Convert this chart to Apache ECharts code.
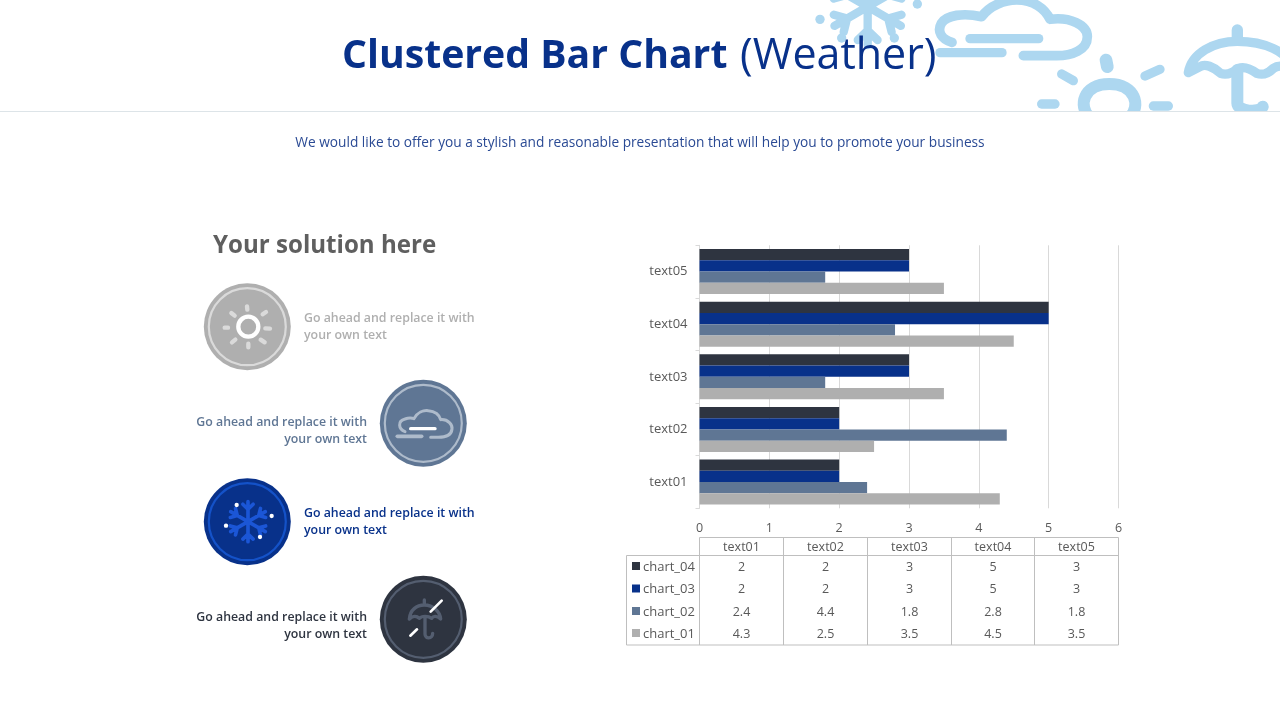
<!DOCTYPE html>
<html>
<head>
<meta charset="utf-8">
<title>Clustered Bar Chart (Weather)</title>
<script src="https://cdn.jsdelivr.net/npm/echarts@6/dist/echarts.min.js"></script>
<style>
html,body{margin:0;padding:0;background:#fff}
#main{width:1280px;height:720px}
</style>
</head>
<body>
<div id="main"></div>
<script type="text/javascript">
var categories = ['text01', 'text02', 'text03', 'text04', 'text05'];
var chart_01 = [4.3, 2.5, 3.5, 4.5, 3.5];
var chart_02 = [2.4, 4.4, 1.8, 2.8, 1.8];
var chart_03 = [2, 2, 3, 5, 3];
var chart_04 = [2, 2, 3, 5, 3];
var seriesNames = ['chart_04', 'chart_03', 'chart_02', 'chart_01'];
var seriesColors = ['#2E3440', '#08318A', '#5F7694', '#AFAFAF'];
var seriesValues = [chart_04, chart_03, chart_02, chart_01];
var captions = ['Go ahead and replace it with', 'your own text'];

var FONT = '"Open Sans", sans-serif';
var SKY = '#ADD7F0', GRID = '#D9D9D9', TABLE = '#BFBFBF', TXT = '#595959';
var g = [];
var shapeCount = 0;

function text(x, y, str, size, color, align, weight) {
	g.push({type: 'text', x: x, y: y, z: 20, style: {
		text: str, fontFamily: FONT, fontSize: size, fill: color,
		align: align || 'left', verticalAlign: 'middle', fontWeight: weight || 'normal'
	}});
}
function rect(x, y, w, h, color, z) {
	g.push({type: 'rect', z: z || 10, shape: {x: x, y: y, width: w, height: h}, style: {fill: color}});
}
function line(x1, y1, x2, y2, color) {
	g.push({type: 'line', z: 10, shape: {x1: x1, y1: y1, x2: x2, y2: y2}, style: {stroke: color, lineWidth: 1}});
}
// icon shapes are written in 3x crop units, then scaled back down
function stroke(ox, oy, d, color, w, z) {
	var name = 'iconPath' + (shapeCount++);
	echarts.graphic.registerShape(name, echarts.graphic.extendPath(d, {}));
	g.push({type: name, x: ox, y: oy, scaleX: 1 / 3, scaleY: 1 / 3, z: z || 5,
		style: {fill: 'none', stroke: color, lineWidth: w, lineCap: 'round', lineJoin: 'round'}});
}
function dot(ox, oy, cx, cy, r, color, z) {
	g.push({type: 'circle', x: ox, y: oy, scaleX: 1 / 3, scaleY: 1 / 3, z: z || 5,
		shape: {cx: cx, cy: cy, r: r}, style: {fill: color}});
}
function badge(cx, cy, fill, ring) {
	g.push({type: 'circle', z: 6, shape: {cx: cx, cy: cy, r: 43.5}, style: {fill: fill}});
	g.push({type: 'circle', z: 7, shape: {cx: cx, cy: cy, r: 38.5}, style: {fill: 'none', stroke: ring, lineWidth: 2.2}});
}
function flake(ox, oy, cx, cy, len, color, w, z) {
	var d = '';
	for (var i = 0; i < 6; i++) {
		var a = Math.PI / 2 + i * Math.PI / 3;
		var ux = Math.cos(a), uy = Math.sin(a);
		d += 'M' + cx + ' ' + cy + 'L' + (cx + ux * len) + ' ' + (cy + uy * len);
		var bx = cx + ux * len * 0.62, by = cy + uy * len * 0.62;
		var a1 = a + 0.8, a2 = a - 0.8, b = len * 0.36;
		d += 'M' + bx + ' ' + by + 'L' + (bx + Math.cos(a1) * b) + ' ' + (by + Math.sin(a1) * b);
		d += 'M' + bx + ' ' + by + 'L' + (bx + Math.cos(a2) * b) + ' ' + (by + Math.sin(a2) * b);
	}
	stroke(ox, oy, d, color, w, z);
}

// header artwork
flake(800, 0, 203, 20, 115, SKY, 25, 1);
dot(800, 0, 60, 58, 14, SKY, 1);
dot(800, 0, 352, 12, 14, SKY, 1);
dot(800, 0, 283, 114, 14, SKY, 1);
dot(800, 0, 125, 114, 14, SKY, 1);
stroke(800, 0, 'M456 127C425 118 410 95 424 70C440 45 490 38 545 50C570 15 615 0 650 0C700 0 735 25 750 58C810 50 862 75 862 110C862 150 815 167 770 167L670 167', SKY, 29, 1);
stroke(800, 0, 'M510 116L716 116', SKY, 28, 1);
stroke(800, 0, 'M420 158L606 158', SKY, 28, 1);
stroke(800, 0, 'M918 180L922 200', SKY, 38, 1);
stroke(800, 0, 'M785 222L820 242', SKY, 28, 1);
stroke(800, 0, 'M1035 228L1080 208', SKY, 28, 1);
stroke(800, 0, 'M725 312L765 312', SKY, 28, 1);
stroke(800, 0, 'M1060 318L1105 318', SKY, 28, 1);
stroke(800, 0, 'M868 350C835 320 848 252 928 252C1008 252 1022 320 990 350', SKY, 36, 1);
stroke(800, 0, 'M1312 90L1312 120', SKY, 34, 1);
stroke(800, 0, 'M1165 218C1175 160 1240 124 1312 124C1390 124 1460 150 1490 215C1460 195 1435 195 1420 205C1400 225 1385 225 1370 220C1350 205 1330 200 1315 205C1290 225 1275 225 1262 220C1240 200 1215 190 1200 200Z', SKY, 28, 1);
stroke(800, 0, 'M1312 210L1312 310C1312 335 1380 340 1388 320', SKY, 36, 1);
rect(0, 111, 1280, 14, '#FFFFFF', 2);
rect(0, 111, 1280, 1, '#DDE4E8', 3);

// heading
text(342, 57, 'Clustered Bar Chart', 39.2, '#08318A', 'left', 'bold');
text(740, 57, '(Weather)', 43, '#08318A', 'left', 'normal');
text(640, 143, 'We would like to offer you a stylish and reasonable presentation that will help you to promote your business', 13.7, '#2A4A94', 'center');
text(213, 246, 'Your solution here', 24.1, '#5F5F5F', 'left', 'bold');

// left column badges
badge(247.3, 326.7, '#AFAFAF', '#DADADA');
badge(423.3, 423.3, '#5F7694', '#AEBBCB');
badge(247.3, 521.7, '#08318A', '#1452C8');
badge(423.3, 619.3, '#2E3440', '#545E70');

text(304, 318, captions[0], 12.35, '#AFAFAF', 'left', 600);
text(304, 335, captions[1], 12.35, '#AFAFAF', 'left', 600);
text(367, 422, captions[0], 12.35, '#5F7694', 'right', 600);
text(367, 439, captions[1], 12.35, '#5F7694', 'right', 600);
text(304, 513, captions[0], 12.35, '#08318A', 'left', 600);
text(304, 530, captions[1], 12.35, '#08318A', 'left', 600);
text(367, 617, captions[0], 12.35, '#2E3440', 'right', 600);
text(367, 634, captions[1], 12.35, '#2E3440', 'right', 600);

// sun
stroke(190, 275, 'M175 125A30 30 0 1 1 174.9 125Z', '#FFFFFF', 13, 8);
stroke(190, 275, 'M171 94L172 104M218 118L228 111M226 160L240 161M212 194L224 202M175 206L175 217M136 194L126 202M104 158L114 158M134 122L124 114', '#DADADA', 13, 8);

// cloud
stroke(190, 275, 'M645 470C625 462 622 438 645 432C655 428 665 428 672 431C682 412 700 405 715 407C735 408 748 420 752 434C775 432 788 450 786 462C784 482 765 487 745 487L722 487', '#AEBBCB', 9, 8);
stroke(190, 275, 'M622 484L695 484', '#AEBBCB', 11, 8);
stroke(190, 275, 'M662 461L735 461', '#FFFFFF', 10, 8);

// snow
flake(190, 470, 174, 155, 60, '#1B56D6', 11, 8);
dot(190, 470, 140, 105, 6.5, '#FFFFFF', 8);
dot(190, 470, 245, 138, 6.5, '#FFFFFF', 8);
dot(190, 470, 108, 167, 6.5, '#FFFFFF', 8);
dot(190, 470, 210, 201, 6.5, '#FFFFFF', 8);

// umbrella
stroke(190, 470, 'M703 390L703 405M658 447C660 420 680 405 703 405C730 405 750 425 752 447C740 437 730 437 725 445C715 437 695 437 688 445C680 437 668 437 658 447ZM705 442L705 492C705 508 728 508 728 490', '#545E70', 10, 8);
stroke(190, 470, 'M722 425L755 392M661 497L681 478', '#FFFFFF', 8, 9);

// data table under the plot
var colX = [699.5, 783.5, 867.5, 951.5, 1034.5, 1118.5];
var rowY = [567, 589.5, 612, 634];
var tTop = 537.5, tHead = 555.5, tBottom = 645, tLeft = 626.5;
line(colX[0], tTop, colX[5], tTop, TABLE);
line(tLeft, tHead, colX[5], tHead, TABLE);
line(tLeft, tBottom, colX[5], tBottom, TABLE);
line(tLeft, tHead, tLeft, tBottom, TABLE);
colX.forEach(function (x) { line(x, tTop, x, tBottom, TABLE); });
categories.forEach(function (c, i) {
	text((colX[i] + colX[i + 1]) / 2, 547.5, c, 12.5, TXT, 'center');
});
seriesNames.forEach(function (name, r) {
	rect(632, rowY[r] - 5, 8, 8, seriesColors[r], 12);
	text(643, rowY[r], name, 13, TXT);
	seriesValues[r].forEach(function (v, i) {
		text((colX[i] + colX[i + 1]) / 2, rowY[r], String(v), 12.5, TXT, 'center');
	});
});

var chart = echarts.init(document.getElementById('main'), null, {renderer: 'canvas'});
chart.setOption({
	animation: false,
	backgroundColor: '#FFFFFF',
	grid: {left: 699.5, right: 161.5, top: 245.3, bottom: 211.7, containLabel: false},
	xAxis: {
		type: 'value', min: 0, max: 6, interval: 1,
		axisLine: {show: false}, axisTick: {show: false},
		splitLine: {lineStyle: {color: GRID, width: 1}},
		axisLabel: {color: TXT, fontFamily: FONT, fontSize: 12.5, margin: 14}
	},
	yAxis: {
		type: 'category', data: categories,
		axisLine: {lineStyle: {color: GRID}},
		axisTick: {show: true, length: 4, lineStyle: {color: GRID}},
		axisLabel: {color: TXT, fontFamily: FONT, fontSize: 13, margin: 12, padding: [2, 0, 0, 0]}
	},
	series: seriesNames.map(function (name, i) {
		return {
			name: name, type: 'bar', data: seriesValues[i], z: 3,
			barGap: 0, barCategoryGap: '14.4%',
			itemStyle: {color: seriesColors[i]}
		};
	}),
	graphic: {elements: g}
});
</script>
</body>
</html>
